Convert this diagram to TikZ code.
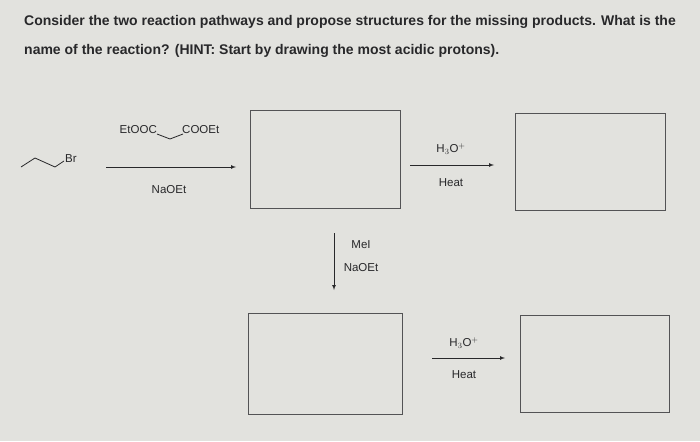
\documentclass[tikz,border=0pt]{standalone}
\usepackage{fontspec}
\setmainfont{Liberation Sans}
\definecolor{bg}{RGB}{226,226,222}
\definecolor{ink}{RGB}{40,40,42}
\begin{document}
\begin{tikzpicture}[x=1pt,y=-1pt,
  box/.style={draw=ink!80,line width=0.8pt},
  lbl/.style={text=ink,font=\fontsize{11.5}{13}\selectfont,inner sep=0pt},
  arr/.style={draw=ink,line width=0.7pt,-latex},
  bond/.style={draw=ink,line width=0.8pt}]
\fill[bg] (0,0) rectangle (700,441);
\useasboundingbox (0,0) rectangle (700,441);
\node[anchor=west,text=ink,font=\fontsize{14}{16}\selectfont\bfseries,inner sep=0pt] (t1) at (24,22) {Consider the two reaction pathways and propose structures for the missing products. What is the};
\node[anchor=west,text=ink,font=\fontsize{14}{16}\selectfont\bfseries,inner sep=0pt] (t2) at (24,51) {name of the reaction? (HINT: Start by drawing the most acidic protons).};
% propyl bromide
\coordinate (p1) at (21,167); \coordinate (p2) at (35,158); \coordinate (p3) at (55,167); \coordinate (p4) at (64,161);
\draw[bond] (p1)--(p2)--(p3)--(p4);
\node[lbl,anchor=west] (br) at (65,159) {Br};
% malonate
\node[lbl,anchor=east] (e1) at (157,130) {EtOOC};
\node[lbl,anchor=west] (e2) at (182,130) {COOEt};
\coordinate (m1) at (157,134); \coordinate (m2) at (170,139); \coordinate (m3) at (183,134);
\draw[bond] (m1)--(m2)--(m3);
\coordinate (a1s) at (106,167); \coordinate (a1e) at (236,167);
\draw[arr] (a1s)--(a1e);
\node[lbl] (n1) at (169,190) {NaOEt};
% boxes
\node[box,minimum width=150,minimum height=98,anchor=north west] (b1) at (250,110) {};
\node[box,minimum width=150,minimum height=97,anchor=north west] (b2) at (515,113) {};
\node[box,minimum width=154,minimum height=101,anchor=north west] (b3) at (248,313) {};
\node[box,minimum width=149,minimum height=97,anchor=north west] (b4) at (520,315) {};
% arrow 2
\coordinate (a2s) at (410,165); \coordinate (a2e) at (494,165);
\draw[arr] (a2s)--(a2e);
\node[lbl] (h1) at (451,149) {H$_3$O$^+$};
\node[lbl] (ht1) at (451,183) {Heat};
% vertical
\coordinate (a3s) at (334,233); \coordinate (a3e) at (334,290);
\draw[arr] (a3s)--(a3e);
\node[lbl] (mei) at (361,245) {MeI};
\node[lbl] (n2) at (361,268) {NaOEt};
% arrow 4
\coordinate (a4s) at (432,358); \coordinate (a4e) at (505,358);
\draw[arr] (a4s)--(a4e);
\node[lbl] (h2) at (464,343) {H$_3$O$^+$};
\node[lbl] (ht2) at (464,375) {Heat};
\end{tikzpicture}
\end{document}
